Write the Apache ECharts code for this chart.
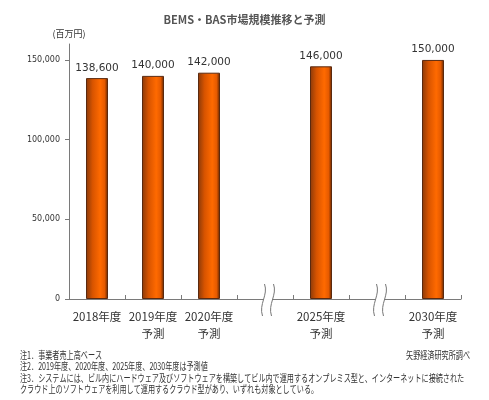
<!DOCTYPE html>
<html>
<head>
<meta charset="utf-8">
<script src="https://cdn.jsdelivr.net/npm/echarts@6/dist/echarts.min.js"></script>
<style>html,body{margin:0;padding:0;background:#fff;}#c{width:489px;height:400px;}</style>
</head>
<body>
<div id="c"></div>
<script>
var categories = ['2018年度\n', '2019年度\n予測', '2020年度\n予測', '', '2025年度\n予測', ' ', '2030年度\n予測'];
var marketValues = [138600, 140000, 142000, null, 146000, null, 150000];
var breakSlots = [null, null, null, 0, null, 0, null];
var yTickValues = [0, 50000, 100000, 150000];
var titleText = 'BEMS・BAS市場規模推移と予測';
var unitText = '(百万円)';
var notes = [
  '注1．事業者売上高ベース',
  '注2．2019年度、2020年度、2025年度、2030年度は予測値',
  '注3．システムには、ビル内にハードウェア及びソフトウェアを構築してビル内で運用するオンプレミス型と、インターネットに接続された',
  'クラウド上のソフトウェアを利用して運用するクラウド型があり、いずれも対象としている。'
];
var sourceText = '矢野経済研究所調べ';

var chart = echarts.init(document.getElementById('c'), null, {renderer: 'canvas'});
var jp = '"Noto Sans CJK JP", "DejaVu Sans", sans-serif';
var num = '"DejaVu Sans", "Noto Sans CJK JP", sans-serif';

var noteGraphics = notes.map(function (t, i) {
  return {
    type: 'text', x: 20, y: 355 + i * 11.5, scaleX: 0.69,
    style: {text: t, font: '10.3px ' + jp, fill: '#333', textAlign: 'left', textVerticalAlign: 'middle'}
  };
});
noteGraphics.push({
  type: 'text', x: 470, y: 355, scaleX: 0.69,
  style: {text: sourceText, font: '10.3px ' + jp, fill: '#333', textAlign: 'right', textVerticalAlign: 'middle'}
});

chart.setOption({
  animation: false,
  backgroundColor: '#fff',
  title: {
    text: titleText, left: 'center', top: 9,
    textStyle: {fontFamily: jp, fontSize: 11, fontWeight: 'bold', color: '#555'}
  },
  grid: {left: 69, right: 28, top: 44, bottom: 101, containLabel: false},
  xAxis: {
    type: 'category', data: categories,
    axisLine: {lineStyle: {color: '#7a7a7a', width: 1}},
    axisTick: {show: true, inside: true, length: 4, lineStyle: {color: '#7a7a7a'}},
    axisLabel: {fontFamily: jp, fontSize: 11.5, color: '#333', lineHeight: 17, margin: 9, interval: 0}
  },
  yAxis: {
    type: 'value', min: 0, max: 160000, interval: 50000,
    name: unitText, nameLocation: 'end', nameGap: 6,
    nameTextStyle: {fontFamily: jp, fontSize: 9, color: '#333', align: 'center'},
    splitLine: {show: false},
    axisLine: {show: true, lineStyle: {color: '#7a7a7a', width: 1}},
    axisTick: {show: true, length: 4, customValues: yTickValues, lineStyle: {color: '#7a7a7a'}},
    axisLabel: {
      customValues: yTickValues, fontFamily: num, fontSize: 8, color: '#333', margin: 9,
      formatter: function (v) { return v.toLocaleString('en-US'); }
    }
  },
  series: [
    {
      type: 'bar', data: marketValues, barWidth: 22,
      itemStyle: {
        borderColor: '#5a2a10', borderWidth: 1,
        color: new echarts.graphic.LinearGradient(0, 0, 1, 0, [
          {offset: 0, color: '#8a3a0a'},
          {offset: 0.3, color: '#d85400'},
          {offset: 0.65, color: '#ff6a00'},
          {offset: 0.85, color: '#e55a00'},
          {offset: 1, color: '#5a2200'}
        ])
      },
      label: {
        show: true, position: 'top', distance: 5,
        fontFamily: num, fontSize: 10.5, color: '#333',
        formatter: function (p) { return p.value.toLocaleString('en-US'); }
      }
    },
    {
      type: 'custom', data: breakSlots, z: 5, silent: true,
      renderItem: function (params, api) {
        if (api.value(1) == null || isNaN(api.value(1))) return;
        var p = api.coord([api.value(0), 0]);
        var x = p[0] + 3, y = p[1];
        var mk = function (dx) {
          var cx = x + dx;
          return {
            type: 'path',
            shape: {pathData: 'M' + (cx + 1) + ' ' + (y - 15) +
              ' C' + (cx + 5) + ' ' + (y - 4) + ' ' + (cx - 5) + ' ' + (y + 5) + ' ' + (cx - 1) + ' ' + (y + 17)},
            style: {stroke: '#777', lineWidth: 1, fill: null}
          };
        };
        return {
          type: 'group',
          children: [
            {type: 'rect', shape: {x: x - 4, y: y - 2, width: 8, height: 4}, style: {fill: '#fff'}},
            mk(-4.5), mk(4.5)
          ]
        };
      }
    }
  ],
  graphic: noteGraphics
});
</script>
</body>
</html>
